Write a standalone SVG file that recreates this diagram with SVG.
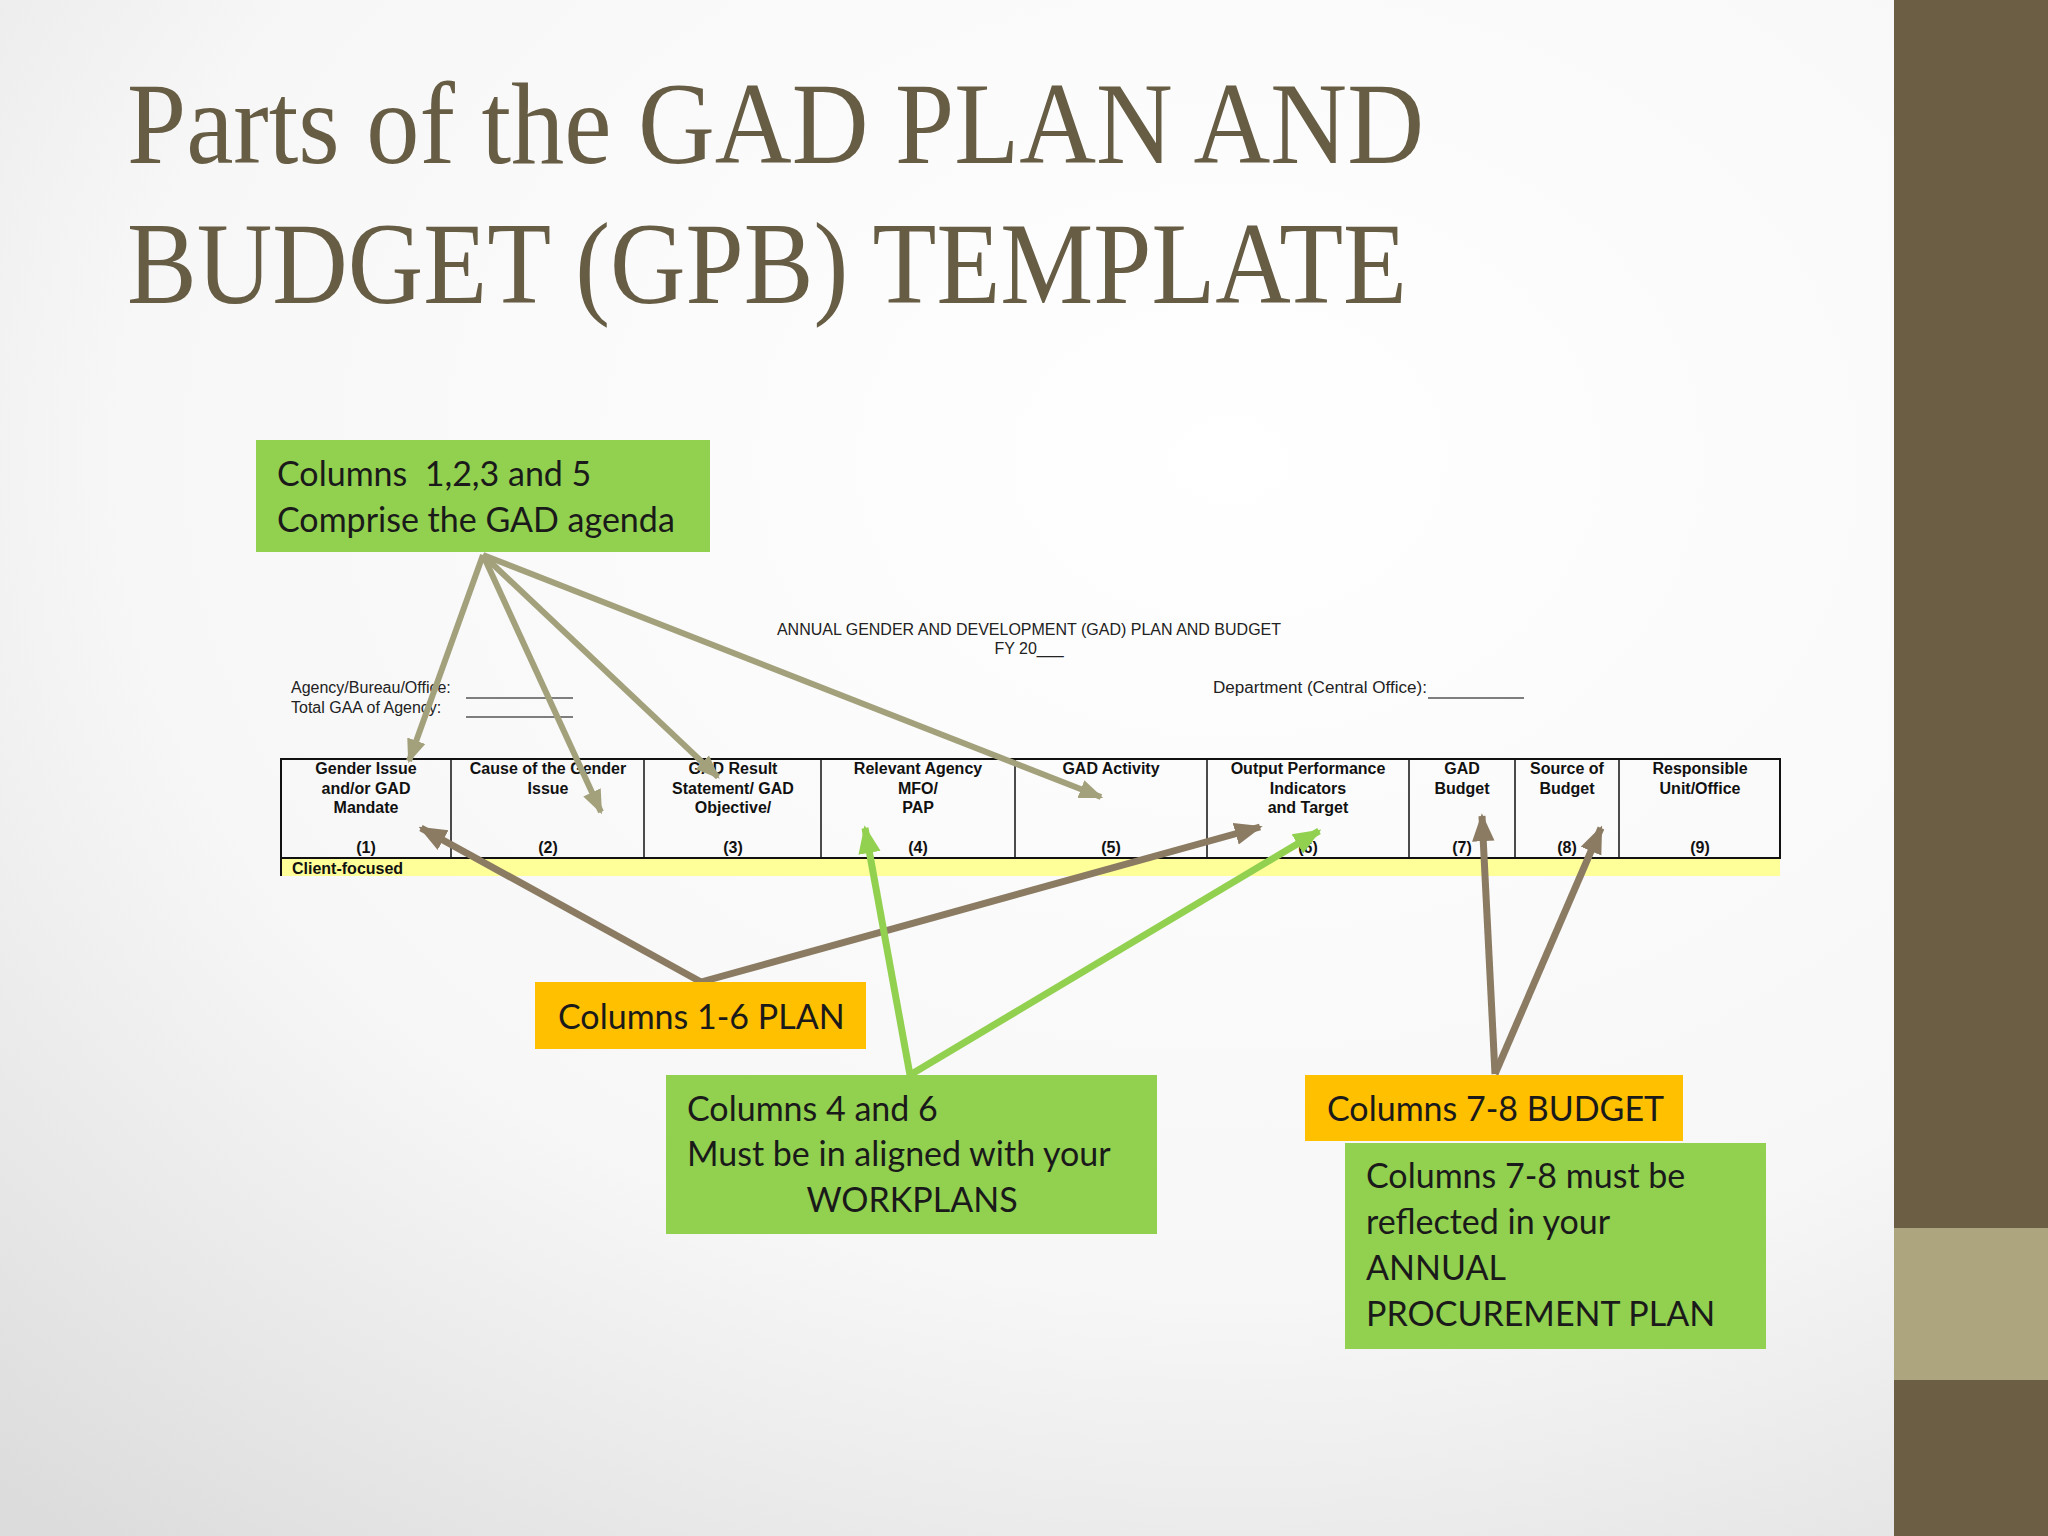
<svg xmlns="http://www.w3.org/2000/svg" width="2048" height="1536" viewBox="0 0 2048 1536">
<style>
.title{font-family:"Liberation Serif",serif;font-size:116px;fill:#675D45}
.box{font-family:Lato,"Open Sans",sans-serif;font-size:34px;fill:#1a1a1a;white-space:pre}
.th{font-family:"Liberation Sans",Arial,sans-serif;font-size:16px;font-weight:bold;fill:#111;text-anchor:middle}
.tx{font-family:"Liberation Sans",Arial,sans-serif;font-size:16px;fill:#222}
.cell{fill:none;stroke:#111;stroke-width:2}
.ol{stroke:#A3A17C;stroke-width:6;fill:none}
.br{stroke:#8B7B62;stroke-width:7;fill:none}
.gr{stroke:#92D050;stroke-width:7;fill:none}
</style>
<defs>
<radialGradient id="bg" cx="0.6" cy="0.3" r="0.9">
<stop offset="0" stop-color="#ffffff"/><stop offset="0.6" stop-color="#f7f7f7"/><stop offset="1" stop-color="#dcdcdc"/>
</radialGradient>
<marker id="mo" viewBox="0 0 10 8" refX="9" refY="4" markerWidth="4" markerHeight="3.5" orient="auto"><path d="M0,0 L10,4 L0,8 z" fill="#A3A17C"/></marker>
<marker id="mb" viewBox="0 0 10 8" refX="9" refY="4" markerWidth="4" markerHeight="3.5" orient="auto"><path d="M0,0 L10,4 L0,8 z" fill="#8B7B62"/></marker>
<marker id="mg" viewBox="0 0 10 8" refX="9" refY="4" markerWidth="4" markerHeight="3.5" orient="auto"><path d="M0,0 L10,4 L0,8 z" fill="#92D050"/></marker>
</defs>
<rect width="2048" height="1536" fill="url(#bg)"/>
<rect x="1894" y="0" width="154" height="1536" fill="#6B5E45"/>
<rect x="1894" y="1228" width="154" height="152" fill="#ADA57D"/>
<text class="title" x="127" y="163" textLength="1297" lengthAdjust="spacingAndGlyphs">Parts of the GAD PLAN AND</text>
<text class="title" x="127" y="303" textLength="1280" lengthAdjust="spacingAndGlyphs">BUDGET (GPB) TEMPLATE</text>

<g id="table">
<text class="tx" x="1029" y="635" text-anchor="middle">ANNUAL GENDER AND DEVELOPMENT (GAD) PLAN AND BUDGET</text>
<text class="tx" x="1029" y="654" text-anchor="middle">FY 20___</text>
<text class="tx" x="291" y="693">Agency/Bureau/Office:</text>
<text class="tx" x="291" y="713">Total GAA of Agency:</text>
<line x1="466" y1="698" x2="573" y2="698" stroke="#555" stroke-width="1.5"/>
<line x1="466" y1="717" x2="573" y2="717" stroke="#555" stroke-width="1.5"/>
<text class="tx" x="1213" y="693" textLength="214" lengthAdjust="spacingAndGlyphs">Department (Central Office):</text>
<line x1="1428" y1="698" x2="1524" y2="698" stroke="#555" stroke-width="1.5"/>
<rect x="281" y="858" width="1499" height="18" fill="#FFFF99"/>
<rect class="cell" x="281" y="759" width="1499" height="99"/>
<line class="cell" x1="281" y1="858" x2="281" y2="876"/>
<g stroke="#111" stroke-width="1.5">
<line x1="451" y1="759" x2="451" y2="858"/><line x1="644" y1="759" x2="644" y2="858"/>
<line x1="821" y1="759" x2="821" y2="858"/><line x1="1015" y1="759" x2="1015" y2="858"/>
<line x1="1207" y1="759" x2="1207" y2="858"/><line x1="1409" y1="759" x2="1409" y2="858"/>
<line x1="1515" y1="759" x2="1515" y2="858"/><line x1="1619" y1="759" x2="1619" y2="858"/>
</g>
<text class="th" x="366" y="774">Gender Issue<tspan x="366" dy="20">and/or GAD</tspan><tspan x="366" dy="19">Mandate</tspan></text>
<text class="th" x="548" y="774">Cause of the Gender<tspan x="548" dy="20">Issue</tspan></text>
<text class="th" x="733" y="774">GAD Result<tspan x="733" dy="20">Statement/ GAD</tspan><tspan x="733" dy="19">Objective/</tspan></text>
<text class="th" x="918" y="774">Relevant Agency<tspan x="918" dy="20">MFO/</tspan><tspan x="918" dy="19">PAP</tspan></text>
<text class="th" x="1111" y="774">GAD Activity</text>
<text class="th" x="1308" y="774">Output Performance<tspan x="1308" dy="20">Indicators</tspan><tspan x="1308" dy="19">and Target</tspan></text>
<text class="th" x="1462" y="774">GAD<tspan x="1462" dy="20">Budget</tspan></text>
<text class="th" x="1567" y="774">Source of<tspan x="1567" dy="20">Budget</tspan></text>
<text class="th" x="1700" y="774">Responsible<tspan x="1700" dy="20">Unit/Office</tspan></text>
<text class="th" x="366" y="853">(1)</text><text class="th" x="548" y="853">(2)</text><text class="th" x="733" y="853">(3)</text>
<text class="th" x="918" y="853">(4)</text><text class="th" x="1111" y="853">(5)</text><text class="th" x="1308" y="853">(6)</text>
<text class="th" x="1462" y="853">(7)</text><text class="th" x="1567" y="853">(8)</text><text class="th" x="1700" y="853">(9)</text>
<text class="th" x="292" y="874" style="text-anchor:start">Client-focused</text>
</g>

<g id="connectors">
<line class="ol" x1="483" y1="555" x2="409" y2="761" marker-end="url(#mo)"/>
<line class="ol" x1="483" y1="555" x2="601" y2="812" marker-end="url(#mo)"/>
<line class="ol" x1="483" y1="555" x2="718" y2="777" marker-end="url(#mo)"/>
<line class="ol" x1="483" y1="555" x2="1101" y2="797" marker-end="url(#mo)"/>
<line class="br" x1="701" y1="982" x2="421" y2="828" marker-end="url(#mb)"/>
<line class="br" x1="701" y1="982" x2="1260" y2="827" marker-end="url(#mb)"/>
<line class="gr" x1="910" y1="1075" x2="865" y2="828" marker-end="url(#mg)"/>
<line class="gr" x1="910" y1="1075" x2="1319" y2="831" marker-end="url(#mg)"/>
<line class="br" x1="1495" y1="1074" x2="1482" y2="816" marker-end="url(#mb)"/>
<line class="br" x1="1495" y1="1074" x2="1601" y2="828" marker-end="url(#mb)"/>
</g>

<g id="agenda">
<rect x="256" y="440" width="454" height="112" fill="#92D050"/>
<text class="box" x="277" y="486" xml:space="preserve">Columns  1,2,3 and 5</text>
<text class="box" x="277" y="532">Comprise the GAD agenda</text>
</g>
<g id="plan">
<rect x="535" y="982" width="331" height="67" fill="#FFC000"/>
<text class="box" x="558" y="1029">Columns 1-6 PLAN</text>
</g>
<g id="workplans">
<rect x="666" y="1075" width="491" height="159" fill="#92D050"/>
<text class="box" x="687" y="1121">Columns 4 and 6</text>
<text class="box" x="687" y="1166">Must be in aligned with your</text>
<text class="box" x="912" y="1212" text-anchor="middle">WORKPLANS</text>
</g>
<g id="budget">
<rect x="1305" y="1075" width="378" height="66" fill="#FFC000"/>
<text class="box" x="1327" y="1121">Columns 7-8 BUDGET</text>
</g>
<g id="procurement">
<rect x="1345" y="1143" width="421" height="206" fill="#92D050"/>
<text class="box" x="1366" y="1188">Columns 7-8 must be</text>
<text class="box" x="1366" y="1234">reflected in your</text>
<text class="box" x="1366" y="1280">ANNUAL</text>
<text class="box" x="1366" y="1326">PROCUREMENT PLAN</text>
</g>
</svg>
